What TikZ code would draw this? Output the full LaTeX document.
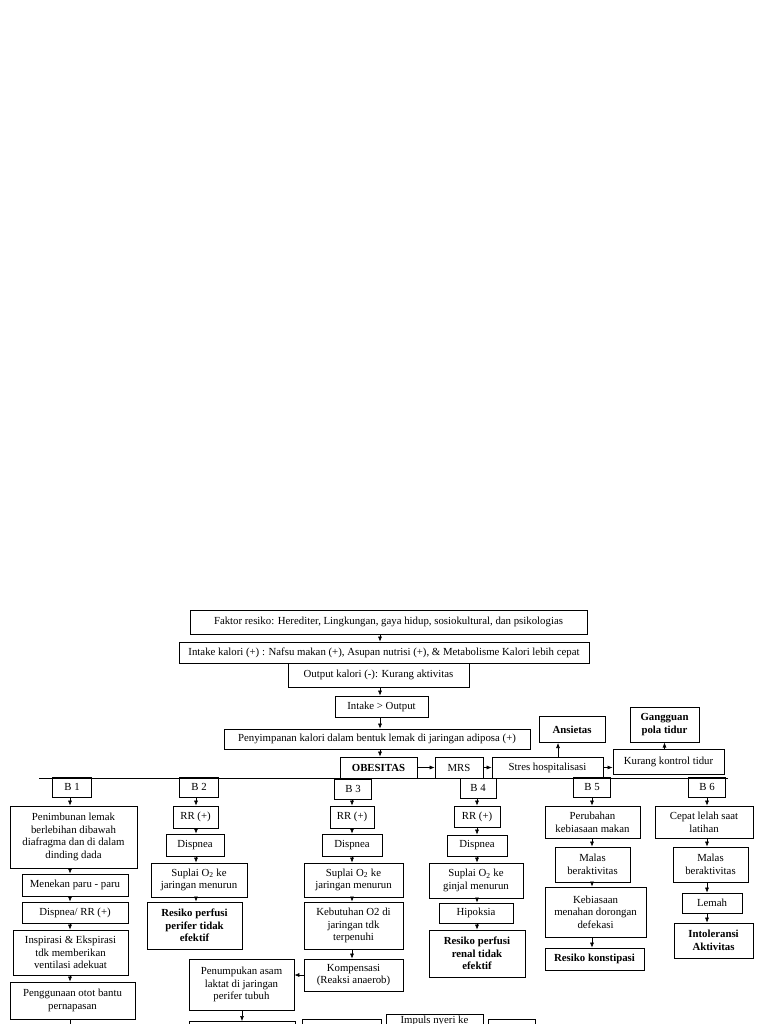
\documentclass[tikz,border=0pt]{standalone}
\usepackage{fontspec}
\setmainfont{Liberation Serif}
\usetikzlibrary{arrows.meta,positioning}

\begin{document}
\begin{tikzpicture}[x=1pt,y=-1pt,>={Latex[length=5pt,width=4pt]},
  kotak/.style={draw,line width=0.7pt,align=center,inner sep=1pt,font=\fontsize{10.8}{12.7}\selectfont},
  tebal/.style={kotak,font=\fontsize{10.8}{12.7}\selectfont\bfseries},
  ukuran/.style 2 args={minimum width=#1,minimum height=#2},
  garis/.style={->,line width=0.6pt}]
  \fill[white] (0,0) rectangle (768,1024);
  \useasboundingbox (0,0) rectangle (768,1024);
  % alur utama
  \node[kotak,ukuran={397}{24}] (faktor) at (388.5,622) {Faktor resiko: Herediter, Lingkungan, gaya hidup, sosiokultural, dan psikologias};
  \node[kotak,ukuran={410}{21}] (intake) at (384,652.5) {Intake kalori (+) : Nafsu makan (+), Asupan nutrisi (+), \& Metabolisme Kalori lebih cepat};
  \node[kotak,ukuran={181}{24}] (output) at (378.5,675) {Output kalori (-): Kurang aktivitas};
  \node[kotak,ukuran={93}{21}] (ivo) at (381.5,706.5) {Intake > Output};
  \node[kotak,ukuran={306}{20}] (simpan) at (377,739) {Penyimpanan kalori dalam bentuk lemak di jaringan adiposa (+)};
  \node[tebal,ukuran={77}{21}] (obesitas) at (378.5,767.5) {OBESITAS};
  \node[kotak,ukuran={48}{21}] (mrs) at (459,767.5) {MRS};
  \node[kotak,ukuran={111}{21}] (stres) at (547.5,767.5) {Stres hospitalisasi};
  \node[tebal,line width=1pt,ukuran={66}{26}] (ansietas) at (572,729.5) {Ansietas};
  \node[tebal,line width=1pt,ukuran={69}{35}] (gangguan) at (664.5,724.5) {Gangguan\\pola tidur};
  \node[kotak,line width=0.95pt,ukuran={111}{25}] (kurang) at (668.5,761.5) {Kurang kontrol tidur};
  \coordinate (k0) at (380,0);
  \coordinate (ka) at (558,0);
  \foreach \a/\b in {faktor/intake,output/ivo,ivo/simpan,simpan/obesitas}
    \draw[garis] (\a.south -| k0) -- (\b.north -| k0);
  \draw[garis] (obesitas) -- (mrs);
  \draw[garis] (mrs) -- (stres);
  \draw[garis] (stres.east) -- (stres.east -| kurang.west);
  \draw[garis] (stres.north -| ka) -- (ansietas.south -| ka);
  \draw[garis] (kurang.north -| gangguan) -- (gangguan.south);
  % garis B
  \coordinate (kiri) at (39,778);
  \coordinate (kanan) at (728,778);
  \draw[line width=0.7pt] (kiri) -- (kanan);
  \node[kotak,ukuran={39}{20}] (b1) at (72,787) {B 1};
  \node[kotak,ukuran={39}{20}] (b2) at (199,787) {B 2};
  \node[kotak,ukuran={37}{20}] (b3) at (353,789) {B 3};
  \node[kotak,ukuran={36}{20}] (b4) at (478,788) {B 4};
  \node[kotak,ukuran={37}{20}] (b5) at (592,787) {B 5};
  \node[kotak,ukuran={37}{20}] (b6) at (707,787) {B 6};
  % B1
  \node[kotak,ukuran={127}{62}] (penimbunan) at (73.5,837) {Penimbunan lemak\\berlebihan dibawah\\diafragma dan di dalam\\dinding dada};
  \node[kotak,ukuran={106}{22}] (menekan) at (75,885) {Menekan paru - paru};
  \node[kotak,ukuran={106}{21}] (dispRR) at (75,912.5) {Dispnea/ RR (+)};
  \node[kotak,ukuran={115}{45}] (inspirasi) at (70.5,952.5) {Inspirasi \& Ekspirasi\\tdk memberikan\\ventilasi adekuat};
  \node[kotak,ukuran={125}{37}] (penggunaan) at (72.5,1000.5) {Penggunaan otot bantu\\pernapasan};
  \coordinate (k1) at (70,0);
  \coordinate (ujung1) at (70,1030);
  \foreach \a/\b in {b1/penimbunan,penimbunan/menekan,menekan/dispRR,dispRR/inspirasi,inspirasi/penggunaan}
    \draw[garis] (\a.south -| k1) -- (\b.north -| k1);
  \draw[line width=0.6pt] (penggunaan.south -| k1) -- (ujung1);
  % B2
  \node[kotak,ukuran={45}{22}] (rr2) at (195.5,817) {RR (+)};
  \node[kotak,ukuran={58}{22}] (disp2) at (195,845) {Dispnea};
  \node[kotak,ukuran={96}{34}] (suplai2) at (199,880) {Suplai O\textsubscript{2} ke\\jaringan menurun};
  \node[tebal,ukuran={95}{47}] (resiko2) at (194.5,925.5) {Resiko perfusi\\perifer tidak\\efektif};
  \coordinate (k2) at (196,0);
  \foreach \a/\b in {b2/rr2,rr2/disp2,disp2/suplai2,suplai2/resiko2}
    \draw[garis] (\a.south -| k2) -- (\b.north -| k2);
  % B3
  \node[kotak,ukuran={44}{22}] (rr3) at (352,817) {RR (+)};
  \node[kotak,ukuran={60}{22}] (disp3) at (352,845) {Dispnea};
  \node[kotak,ukuran={99}{34}] (suplai3) at (353.5,880) {Suplai O\textsubscript{2} ke\\jaringan menurun};
  \node[kotak,ukuran={99}{47}] (kebutuhan) at (353.5,925.5) {Kebutuhan O2 di\\jaringan tdk\\terpenuhi};
  \node[kotak,ukuran={99}{32}] (kompensasi) at (353.5,975) {Kompensasi\\(Reaksi anaerob)};
  \node[kotak,ukuran={105}{51}] (penumpukan) at (241.5,984.5) {Penumpukan asam\\laktat di jaringan\\perifer tubuh};
  \coordinate (k3) at (352,0);
  \foreach \a/\b in {b3/rr3,rr3/disp3,disp3/suplai3,suplai3/kebutuhan,kebutuhan/kompensasi}
    \draw[garis] (\a.south -| k3) -- (\b.north -| k3);
  \draw[garis] (kompensasi.west) -- (kompensasi.west -| penumpukan.east);
  % kotak bawah (terpotong)
  \node[kotak,ukuran={106}{30},anchor=north] (bawah1) at (242,1021) {};
  \node[kotak,ukuran={79}{30},anchor=north] (bawah2) at (341.5,1019) {};
  \node[kotak,minimum width=97,inner ysep=1.5pt,anchor=north] (impuls) at (434.5,1014) {Impuls nyeri ke\\\phantom{x}};
  \node[kotak,ukuran={47}{30},anchor=north] (bawah4) at (511.5,1019) {};
  \draw[garis] (penumpukan.south -| bawah1) -- (bawah1.north);
  % B4
  \node[kotak,ukuran={46}{21}] (rr4) at (477,816.5) {RR (+)};
  \node[kotak,ukuran={60}{21}] (disp4) at (477,845.5) {Dispnea};
  \node[kotak,ukuran={94}{35}] (suplai4) at (476,880.5) {Suplai O\textsubscript{2} ke\\ginjal menurun};
  \node[kotak,ukuran={74}{20}] (hipoksia) at (476,913) {Hipoksia};
  \node[tebal,ukuran={96}{47}] (resiko4) at (477,953.5) {Resiko perfusi\\renal tidak\\efektif};
  \coordinate (k4) at (477,0);
  \foreach \a/\b in {b4/rr4,rr4/disp4,disp4/suplai4,suplai4/hipoksia,hipoksia/resiko4}
    \draw[garis] (\a.south -| k4) -- (\b.north -| k4);
  % B5
  \node[kotak,ukuran={95}{32}] (perubahan) at (592.5,822) {Perubahan\\kebiasaan makan};
  \node[kotak,ukuran={75}{35}] (malas5) at (592.5,864.5) {Malas\\beraktivitas};
  \node[kotak,ukuran={101}{50}] (kebiasaan) at (595.5,912) {Kebiasaan\\menahan dorongan\\defekasi};
  \node[tebal,ukuran={99}{22}] (konstipasi) at (594.5,959) {Resiko konstipasi};
  \coordinate (k5) at (592,0);
  \foreach \a/\b in {b5/perubahan,perubahan/malas5,malas5/kebiasaan,kebiasaan/konstipasi}
    \draw[garis] (\a.south -| k5) -- (\b.north -| k5);
  % B6
  \node[kotak,ukuran={98}{32}] (cepat) at (704,822) {Cepat lelah saat\\latihan};
  \node[kotak,ukuran={75}{35}] (malas6) at (710.5,864.5) {Malas\\beraktivitas};
  \node[kotak,ukuran={60}{20}] (lemah) at (712,903) {Lemah};
  \node[tebal,ukuran={79}{35}] (intoleransi) at (713.5,940.5) {Intoleransi\\Aktivitas};
  \coordinate (k6) at (707,0);
  \foreach \a/\b in {b6/cepat,cepat/malas6,malas6/lemah,lemah/intoleransi}
    \draw[garis] (\a.south -| k6) -- (\b.north -| k6);
\end{tikzpicture}
\end{document}
